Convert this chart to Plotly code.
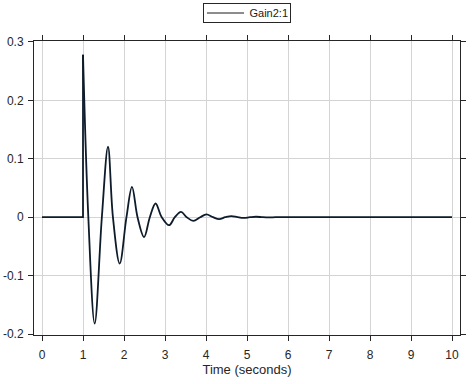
import plotly.graph_objects as go

# Data (time in seconds, response)
t_pre = [0.0, 1.0, 1.0]
y_pre = [0.0, 0.0, 0.278]

t_osc = [1.0, 1.13, 1.285, 1.46, 1.61, 1.73, 1.895, 2.06, 2.195, 2.33, 2.49, 2.63, 2.77,
         2.92, 3.10, 3.24, 3.39, 3.53, 3.69, 3.86, 4.01, 4.17, 4.32, 4.47, 4.62, 4.77,
         4.92, 5.07, 5.22, 5.38, 5.53, 5.70, 6.0, 7.0, 8.0, 9.0, 10.0]
y_osc = [0.278, 0.0, -0.182, 0.0, 0.1206, 0.0, -0.0795, 0.0, 0.052, 0.0, -0.034, 0.0, 0.0235,
         0.0, -0.0137, 0.0, 0.009, 0.0, -0.0063, 0.0, 0.0048, 0.0, -0.0033, 0.0, 0.002, 0.0,
         -0.0013, 0.0, 0.0008, 0.0, -0.0004, 0.0, 0.0, 0.0, 0.0, 0.0, 0.0]

series_name = "Gain2:1"
x_ticks = [0, 1, 2, 3, 4, 5, 6, 7, 8, 9, 10]
y_ticks = [-0.2, -0.1, 0, 0.1, 0.2, 0.3]
y_tick_text = ["-0.2", "-0.1", "0", "0.1", "0.2", "0.3"]

line_color = "#0d1b2a"
font_family = "Liberation Sans, Arial, sans-serif"

fig = go.Figure()
fig.add_trace(go.Scatter(x=t_pre, y=y_pre, mode="lines", name=series_name,
                         showlegend=False, line=dict(color=line_color, width=1.8)))
fig.add_trace(go.Scatter(x=t_osc, y=y_osc, mode="lines", name=series_name,
                         showlegend=False,
                         line=dict(color=line_color, width=1.8, shape="spline", smoothing=1.0)))

axis_common = dict(showline=True, linecolor="#262626", linewidth=1, mirror="allticks",
                   ticks="outside", ticklen=5, tickcolor="#262626", automargin=False,
                   showgrid=True, gridcolor="#d4d4d4", gridwidth=1, zeroline=False,
                   tickfont=dict(family=font_family, size=12, color="#262626"))

fig.update_xaxes(range=[-0.195, 10.195], tickvals=x_ticks, ticklabelstandoff=4,
                 title=dict(text="Time (seconds)", standoff=2,
                            font=dict(family=font_family, size=13, color="#262626")),
                 **axis_common)
fig.update_yaxes(range=[-0.2017, 0.3017], tickvals=y_ticks, ticktext=y_tick_text,
                 ticklabelstandoff=2, **axis_common)

# Legend box (MATLAB style) drawn as an annotation with a line sample
leg_y = 1.0952
fig.add_annotation(xref="paper", yref="paper", x=0.5, y=leg_y, xanchor="center", yanchor="middle",
                   text=series_name, showarrow=False, align="right", width=82, height=14,
                   bordercolor="#262626", borderwidth=1, borderpad=2, bgcolor="rgba(0,0,0,0)",
                   font=dict(family=font_family, size=11, color="#1a1a1a"))
fig.add_shape(type="line", xref="paper", yref="paper", x0=0.406, x1=0.493, y0=leg_y, y1=leg_y,
              line=dict(color="#1a1a1a", width=1))

fig.update_layout(
    width=474, height=384,
    margin=dict(l=34, r=14, t=41, b=49, autoexpand=False),
    paper_bgcolor="white", plot_bgcolor="white",
    showlegend=False,
)

fig.write_html("out.html", config={"displayModeBar": False},
               post_script="document.body.style.margin='0';document.body.style.overflow='hidden';")
